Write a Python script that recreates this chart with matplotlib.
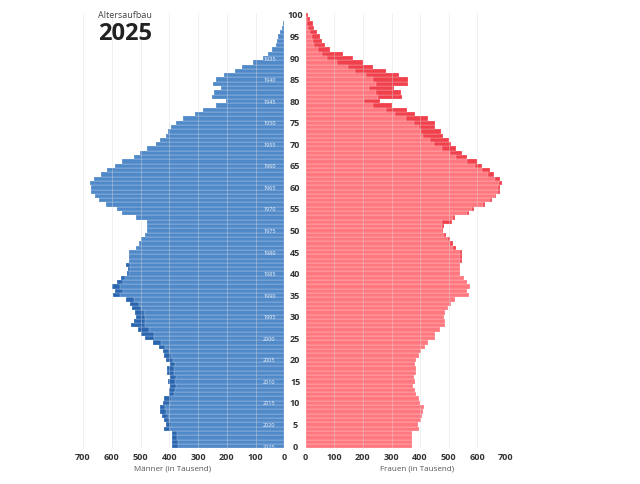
import numpy as np
import matplotlib
matplotlib.use("Agg")
import matplotlib.pyplot as plt

plt.rcParams['font.family'] = ['Open Sans', 'DejaVu Sans']

# Bevölkerung 2025 nach Alter (in Tausend), Index = Alter 0..100
ages = np.arange(0, 101)

maenner = [389, 389, 390, 390, 419, 412, 419, 427, 431, 433,
           422, 419, 401, 401, 396, 404, 398, 408, 408, 398,
           410, 419, 422, 437, 456, 485, 497, 509, 532, 523,
           517, 520, 528, 535, 549, 596, 588, 598, 582, 567,
           546, 544, 549, 540, 540, 540, 515, 505, 499, 485,
           477, 477, 477, 515, 563, 582, 619, 645, 660, 671,
           671, 675, 662, 636, 616, 590, 563, 524, 503, 477,
           448, 433, 410, 404, 395, 377, 352, 311, 282, 236,
           204, 253, 245, 221, 247, 236, 209, 172, 149, 110,
           75, 56, 42, 29, 24, 21, 15, 9, 6, 3,
           2]

frauen = [370, 370, 372, 372, 397, 393, 402, 405, 410, 414,
          399, 395, 385, 381, 376, 381, 378, 385, 385, 381,
          387, 395, 402, 416, 428, 453, 453, 471, 486, 486,
          483, 488, 498, 507, 523, 570, 562, 573, 562, 553,
          540, 538, 538, 547, 547, 547, 527, 515, 503, 492,
          480, 484, 513, 521, 570, 588, 626, 652, 666, 678,
          680, 687, 678, 657, 643, 616, 597, 562, 545, 527,
          509, 500, 480, 474, 453, 453, 426, 381, 355, 300,
          259, 337, 333, 308, 358, 357, 327, 279, 234, 199,
          166, 129, 85, 67, 58, 50, 41, 29, 24, 15,
          9]

jahrgaenge = list(range(1935, 2026, 5))
alters_ticks = list(range(0, 101, 5))
x_ticks = list(range(0, 701, 100))

maenner = np.array(maenner)
frauen = np.array(frauen)
gemeinsam = np.minimum(maenner, frauen)

blau_hell = '#5089C8'
blau_dunkel = '#2A66B0'
rot_hell = '#FF7880'
rot_dunkel = '#F0404C'

fig = plt.figure(figsize=(6.4, 4.85), dpi=100)

unten = 1 - 449.2 / 485
hoehe = (449.2 - 13.8) / 485
ax_m = fig.add_axes([83 / 640, unten, 201.4 / 640, hoehe])
ax_f = fig.add_axes([305.7 / 640, unten, 200.3 / 640, hoehe])

# Überschuss dunkel, gemeinsamer Teil hell
ax_m.barh(ages, maenner, height=1.0, color=blau_dunkel, edgecolor=(1, 1, 1, 0.45), linewidth=0.35)
ax_m.barh(ages, gemeinsam, height=1.0, color=blau_hell, edgecolor=(1, 1, 1, 0.45), linewidth=0.35)
ax_f.barh(ages, frauen, height=1.0, color=rot_dunkel, edgecolor=(1, 1, 1, 0.45), linewidth=0.35)
ax_f.barh(ages, gemeinsam, height=1.0, color=rot_hell, edgecolor=(1, 1, 1, 0.45), linewidth=0.35)

ax_m.set_xlim(700, 0)
ax_f.set_xlim(0, 700)

for ax in (ax_m, ax_f):
    ax.set_ylim(-0.5, 100.5)
    ax.set_yticks([])
    ax.set_xticks(x_ticks)
    ax.tick_params(axis='x', length=0, pad=3, labelsize=6.5, labelcolor='#333333')
    for lbl in ax.get_xticklabels():
        lbl.set_fontweight('bold')
    for s in ax.spines.values():
        s.set_visible(False)
    for xv in x_ticks[1:]:
        ax.axvline(xv, color='#d8d8d8', alpha=0.45, linewidth=0.6, zorder=3)

# Geburtsjahrgänge in den Männerbalken
for j in jahrgaenge:
    ax_m.text(52, 2025 - j, str(j), ha='center', va='center', fontsize=4,
              color='white', alpha=0.9, zorder=4)

# Altersangaben in der Mitte
for a in alters_ticks:
    ax_f.text(-37, a, str(a), ha='center', va='center', fontsize=6.5,
              fontweight='bold', color='#333333', clip_on=False)

fig.text(173 / 640, 1 - 469.5 / 485, 'Männer (in Tausend)', ha='center', va='center',
         fontsize=5.8, color='#555555')
fig.text(417 / 640, 1 - 469.5 / 485, 'Frauen (in Tausend)', ha='center', va='center',
         fontsize=5.8, color='#555555')

fig.text(125 / 640, 1 - 15.7 / 485, 'Altersaufbau', ha='center', va='center',
         fontsize=6.5, color='#444444')
fig.text(125 / 640, 1 - 34 / 485, '2025', ha='center', va='center',
         fontsize=17, fontweight='bold', color='#222222')

fig.savefig('out.png', dpi=100, facecolor='white')
